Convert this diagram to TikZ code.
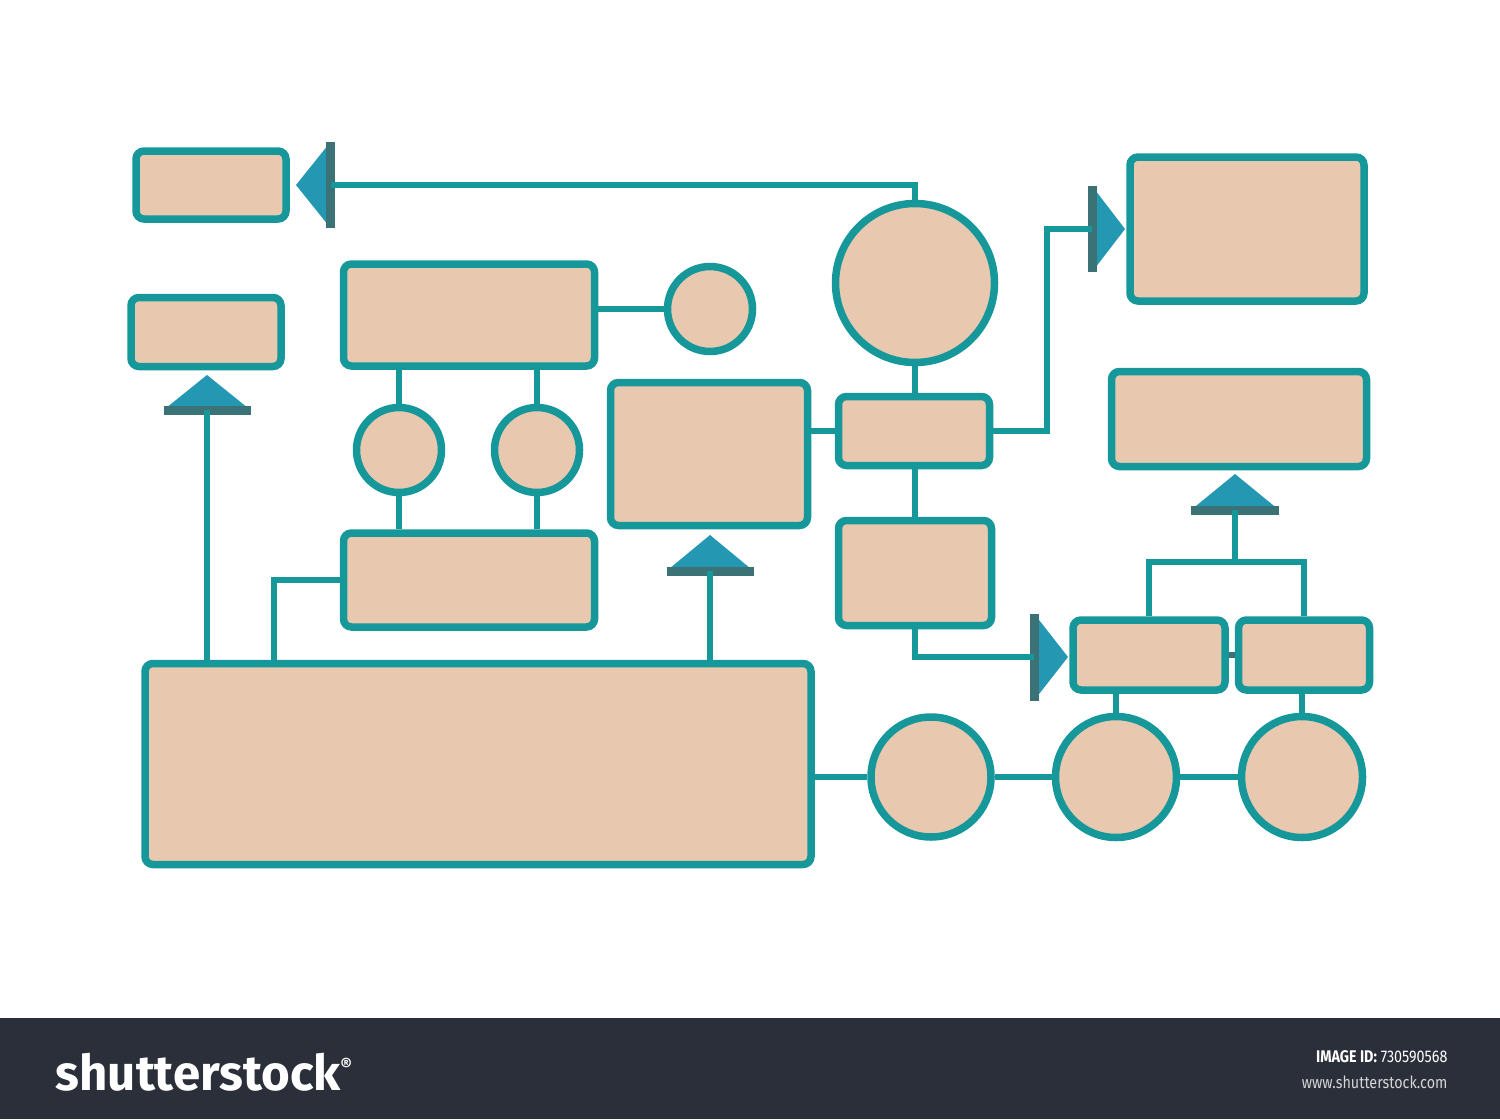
\documentclass[tikz,border=0pt]{standalone}
\usepackage{fontspec}
\setsansfont{Fira Sans}
\usetikzlibrary{shapes.geometric}
\definecolor{tealline}{RGB}{22,152,154}
\definecolor{peach}{RGB}{233,200,176}
\definecolor{arrowblue}{RGB}{36,151,179}
\definecolor{bardark}{RGB}{58,114,117}
\definecolor{banner}{RGB}{42,47,58}
\tikzset{
    BX/.style ={rectangle,rounded corners=0.8mm,draw=tealline,fill=peach,line width=0.75mm,inner sep=0pt},
    CI/.style ={circle,draw=tealline,fill=peach,line width=0.75mm,inner sep=0pt},
    TR/.style ={isosceles triangle,isosceles triangle stretches,fill=arrowblue,inner sep=0pt,outer sep=0pt,anchor=apex},
    BAR/.style ={draw=bardark,line width=0.9mm},
    LN/.style ={draw=tealline,line width=0.6mm}}

\begin{document}
\begin{tikzpicture}[x=0.1mm,y=-0.1mm]
        \useasboundingbox (0,0) rectangle (1500,1119);
        \node[BX,minimum width=15.0mm,minimum height=6.8mm] (b1) at (211,185){};
        \node[BX,minimum width=15.0mm,minimum height=6.9mm] (b2) at (206,332){};
        \node[BX,minimum width=25.1mm,minimum height=10.2mm] (b3) at (469,315){};
        \node[BX,minimum width=25.1mm,minimum height=9.4mm] (b4) at (469,580){};
        \node[BX,minimum width=19.7mm,minimum height=14.3mm] (b5) at (709,454){};
        \node[BX,minimum width=15.1mm,minimum height=6.9mm] (b6) at (914,431){};
        \node[BX,minimum width=15.3mm,minimum height=10.5mm] (b7) at (915,573){};
        \node[BX,minimum width=23.4mm,minimum height=14.4mm] (b8) at (1247,229){};
        \node[BX,minimum width=25.5mm,minimum height=9.5mm] (b9) at (1239,419){};
        \node[BX,minimum width=15.2mm,minimum height=7.0mm] (b10) at (1149,655){};
        \node[BX,minimum width=13.1mm,minimum height=7.0mm] (b11) at (1304,655){};
        \node[BX,minimum width=66.6mm,minimum height=20.1mm] (b12) at (478,764){};
        \node[CI,minimum size=8.5mm] (c1) at (710,309){};
        \node[CI,minimum size=8.5mm] (c2) at (399,450){};
        \node[CI,minimum size=8.5mm] (c3) at (537,450){};
        \node[CI,minimum size=15.9mm] (c4) at (915,283){};
        \node[CI,minimum size=12.0mm] (c5) at (931,777){};
        \node[CI,minimum size=12.1mm] (c6) at (1116,777){};
        \node[CI,minimum size=12.1mm] (c7) at (1302,777){};
        \node[TR,rotate=180,minimum height=3.45mm,minimum width=8.6mm] (t1) at (296,185){};
        \node[TR,rotate=90,minimum height=3.5mm,minimum width=8.7mm] (t2) at (207,375){};
        \node[TR,rotate=90,minimum height=3.6mm,minimum width=8.7mm] (t3) at (710,535){};
        \node[TR,minimum height=3.4mm,minimum width=8.7mm] (t4) at (1068,657){};
        \node[TR,minimum height=3.3mm,minimum width=8.6mm] (t5) at (1125,229){};
        \node[TR,rotate=90,minimum height=3.6mm,minimum width=8.8mm] (t6) at (1235,474){};
        \foreach \t in {t1,t2,t3,t4,t5,t6}
            \draw[BAR] (\t.left corner) -- (\t.right corner);
        \draw[LN] (t1.lower side) -| (c4);
        \draw[LN] (t2.lower side) -- (t2.lower side |- b12.north);
        \draw[LN] (t3.lower side) -- (t3.lower side |- b12.north);
        \coordinate (j1) at (274,660);
        \draw[LN] (b4.west) -| (j1);
        \draw[LN] (b3.east |- c1) -- (c1);
        \draw[LN] (c2) -- (c2 |- b3.south);
        \draw[LN] (c2) -- (c2 |- b4.north);
        \draw[LN] (c3) -- (c3 |- b3.south);
        \draw[LN] (c3) -- (c3 |- b4.north);
        \draw[LN] (c4) -- (c4 |- b6.north);
        \draw[LN] (b5.east |- b6) -- (b6.west);
        \draw[LN] (b7.north) -- (b7.north |- b6.south);
        \draw[LN] (b7.south) |- (t4.lower side);
        \draw[LN] (b6.east) -- ++(54,0) |- (t5.lower side);
        \coordinate (m1) at (1235,562);
        \draw[LN] (t6.lower side) -- (m1);
        \draw[LN] (b10.north) |- (m1) -| (b11.north);
        \draw[BAR,line width=0.6mm] (b10) -- (b11);
        \draw[LN] (c6) -- (c6 |- b10.south);
        \draw[LN] (c7) -- (c7 |- b11.south);
        \draw[LN] (b12.east |- c5) -- (c5);
        \draw[LN] (c5) -- (c6) -- (c7);
        % banner
        \fill[banner] (0,1018) rectangle (1500,1119);
        \node[anchor=west,white,font=\sffamily\bfseries\fontsize{14}{14}\selectfont,inner sep=0pt] (logo) at (55,1072){shutterstock\textsuperscript{\tiny®}};
        \node[anchor=east,white,font=\sffamily\fontsize{4.8}{5}\selectfont,inner sep=0pt,xscale=0.85] (imgid) at (1448,1057){\textbf{IMAGE ID:} 730590568};
        \node[anchor=east,white!80!banner,font=\sffamily\fontsize{4.8}{5}\selectfont,inner sep=0pt,xscale=0.85] (www) at (1448,1082){www.shutterstock.com};
    \end{tikzpicture}
\end{document}
